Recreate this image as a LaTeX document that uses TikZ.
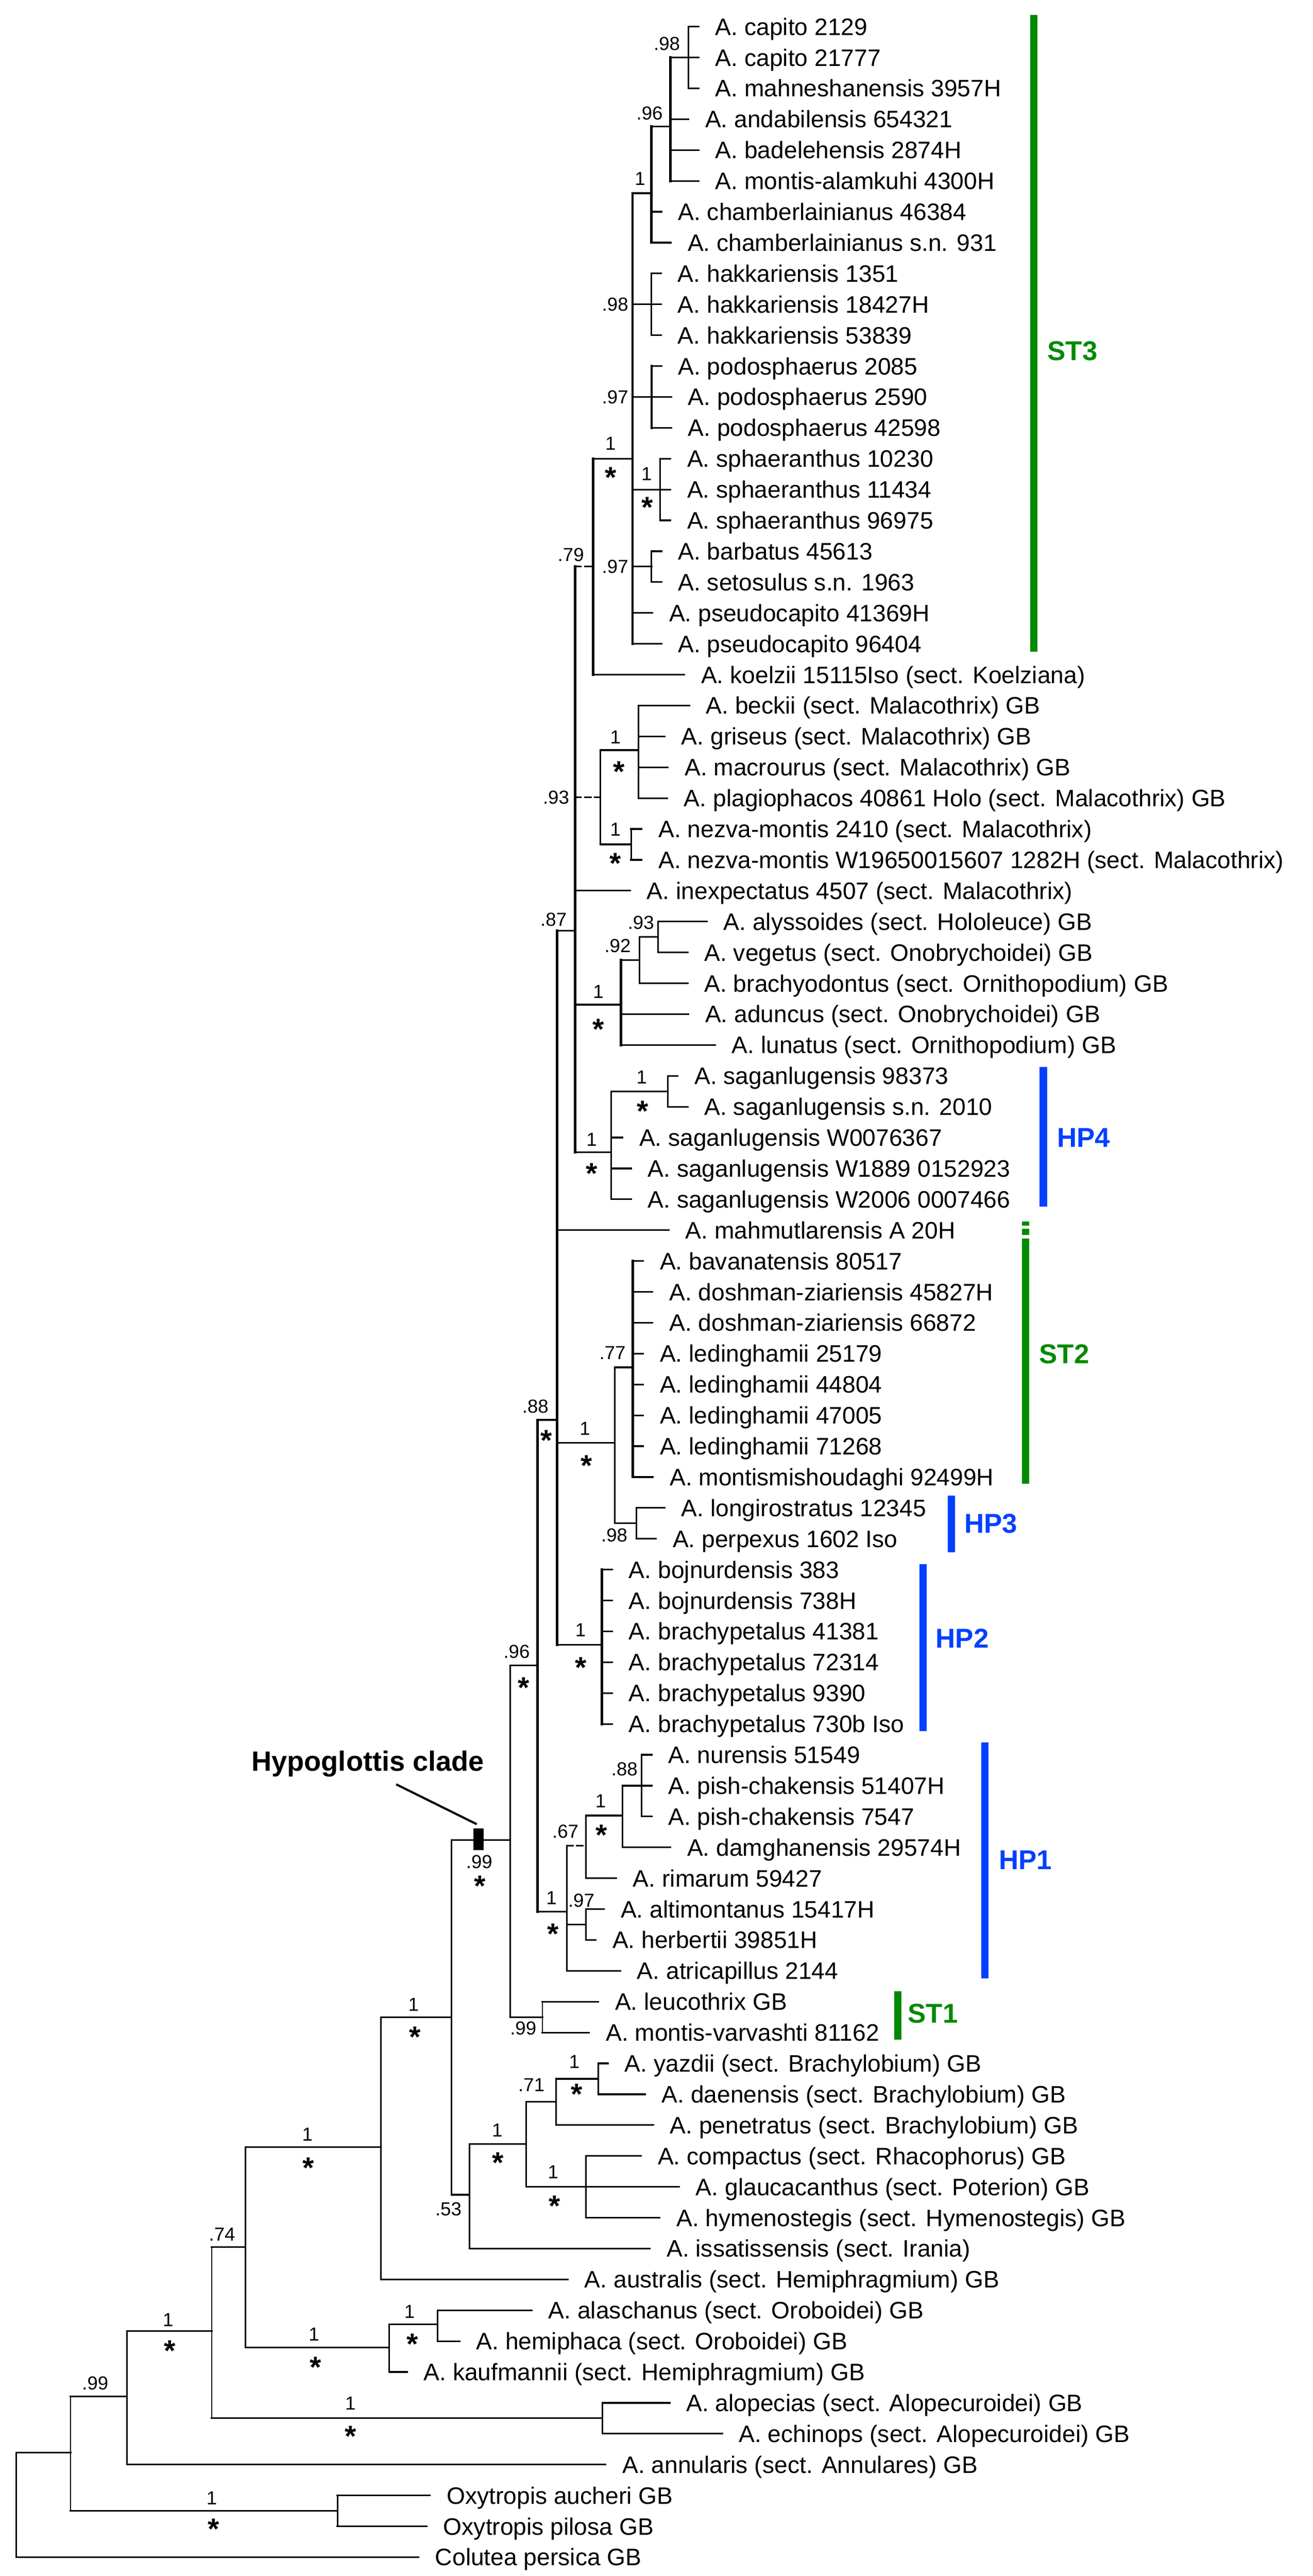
\documentclass[tikz,border=0pt]{standalone}
\usepackage{fontspec}
\setmainfont{Liberation Sans}
\definecolor{stgreen}{RGB}{0,138,0}
\definecolor{hpblue}{RGB}{0,64,255}
\newcounter{nc}
\newcommand{\lf}[4]{\stepcounter{nc}\draw[br] (#2,#1) -- (#3,#1);
  \node[leaf] (leaf\arabic{nc}) at (#3+10,#1+5.2) {#4};}
\newcommand{\vt}[3]{\draw[vthin] (#1,#2) -- (#1,#3);}
\newcommand{\vk}[3]{\draw[vthick] (#1,#2) -- (#1,#3);}
\newcommand{\hz}[3]{\draw[br] (#1,#3) -- (#2,#3);}
\newcommand{\hd}[3]{\draw[br,dash pattern=on 3.5pt off 2.5pt] (#1,#3) -- (#2,#3);}
\newcommand{\sa}[3]{\stepcounter{nc}\node[sup,anchor=base] (s\arabic{nc}) at (#1,#2+4.1) {#3};}
\newcommand{\sr}[3]{\stepcounter{nc}\node[sup,anchor=base east] (s\arabic{nc}) at (#1,#2+4.1) {#3};}
\newcommand{\sw}[3]{\stepcounter{nc}\node[sup,anchor=base west] (s\arabic{nc}) at (#1,#2+4.1) {#3};}
\newcommand{\st}[2]{\stepcounter{nc}\node[star,anchor=base] (s\arabic{nc}) at (#1,#2+10.2) {*};}
\newcommand{\cbar}[4]{\draw[line width=4.5pt,#4] (#1,#2) -- (#1,#3);}
\newcommand{\clab}[5]{\node[clade,text=#4,anchor=base west] (c#5) at (#1,#2+5.95) {#3};}
\begin{document}
\begin{tikzpicture}[x=1pt,y=-1pt,
  br/.style={line width=1pt,line cap=rect},
  vthin/.style={line width=0.9pt,line cap=rect},
  vthick/.style={line width=1.5pt,line cap=rect},
  leaf/.style={anchor=base west,inner sep=0pt,font=\fontsize{14.5}{14.5}\selectfont},
  sup/.style={inner sep=0pt,font=\fontsize{11.5}{11.5}\selectfont},
  star/.style={inner sep=0pt,font=\fontsize{18}{18}\selectfont\bfseries},
  clade/.style={inner sep=0pt,font=\fontsize{16.6}{16.6}\selectfont\bfseries}]
\useasboundingbox (0,0) rectangle (800,1569.3);
% ---- ST3 ----
\lf{16.2}{419.5}{425.7}{A. capito 2129}
\lf{35.0}{419.5}{425.7}{A. capito 21777}
\lf{53.8}{419.5}{425.7}{A. mahneshanensis 3957H}
\vt{419.5}{16.2}{53.8}\hz{408.5}{419.5}{35.0}
\lf{72.6}{408.5}{419.5}{A. andabilensis 654321}
\lf{91.4}{408.5}{425.7}{A. badelehensis 2874H}
\lf{110.2}{408.5}{425.7}{A. montis-alamkuhi 4300H}
\vk{408.5}{35.0}{110.2}\hz{396.8}{408.5}{77}
\lf{129.0}{396.8}{403}{A. chamberlainianus 46384}
\lf{147.8}{396.8}{408.8}{A. chamberlainianus s.n. 931}
\vk{396.8}{77}{147.8}\hz{385.4}{396.8}{117.7}
\lf{166.6}{397}{402.8}{A. hakkariensis 1351}
\lf{185.4}{397}{402.8}{A. hakkariensis 18427H}
\lf{204.2}{397}{402.8}{A. hakkariensis 53839}
\vt{397}{166.6}{204.2}\hz{385.4}{397}{185.4}
\lf{223.0}{397}{403}{A. podosphaerus 2085}
\lf{241.8}{397}{409}{A. podosphaerus 2590}
\lf{260.6}{397}{409}{A. podosphaerus 42598}
\vk{397}{223.0}{260.6}\hz{385.4}{397}{241.8}
\lf{279.4}{402.3}{408.5}{A. sphaeranthus 10230}
\lf{298.2}{402.3}{408.5}{A. sphaeranthus 11434}
\lf{317.0}{402.3}{408.5}{A. sphaeranthus 96975}
\vt{402.3}{279.4}{317.0}\hz{385.4}{402.3}{298.2}
\lf{335.8}{397}{403}{A. barbatus 45613}
\lf{354.6}{397}{403}{A. setosulus s.n. 1963}
\vt{397}{335.8}{354.6}\hz{385.4}{397}{345.2}
\lf{373.4}{385.4}{397.5}{A. pseudocapito 41369H}
\lf{392.2}{385.4}{403}{A. pseudocapito 96404}
\vk{385.4}{117.7}{392.2}\hz{361.5}{385.4}{279.4}
\lf{411.0}{361.5}{417}{A. koelzii 15115Iso (sect. Koelziana)}
\vk{361.5}{279.4}{411.0}\hd{350.5}{361.5}{345}
% ---- Malacothrix ----
\lf{429.8}{389}{420}{A. beckii (sect. Malacothrix) GB}
\lf{448.6}{389}{405}{A. griseus (sect. Malacothrix) GB}
\lf{467.4}{389}{407}{A. macrourus (sect. Malacothrix) GB}
\lf{486.2}{389}{406.6}{A. plagiophacos 40861 Holo (sect. Malacothrix) GB}
\vt{389}{429.8}{486.2}\hz{365.8}{389}{457}
\lf{505.0}{384.5}{391}{A. nezva-montis 2410 (sect. Malacothrix)}
\lf{523.8}{384.5}{391}{A. nezva-montis W19650015607 1282H (sect. Malacothrix)}
\vt{384.5}{505.0}{523.8}\hz{365.8}{384.5}{514.4}
\vt{365.8}{457}{514.4}\hd{350.5}{365.8}{485.7}
\lf{542.6}{350.5}{384}{A. inexpectatus 4507 (sect. Malacothrix)}
% ---- alyssoides group ----
\lf{561.4}{401}{430.7}{A. alyssoides (sect. Hololeuce) GB}
\lf{580.2}{401}{419}{A. vegetus (sect. Onobrychoidei) GB}
\vt{401}{561.4}{580.2}\hz{389.7}{401}{570.8}
\lf{599.0}{389.7}{419}{A. brachyodontus (sect. Ornithopodium) GB}
\vt{389.7}{570.8}{599.0}\hz{378.3}{389.7}{584.9}
\lf{617.8}{378.3}{419.5}{A. aduncus (sect. Onobrychoidei) GB}
\lf{636.6}{378.3}{435.7}{A. lunatus (sect. Ornithopodium) GB}
\vk{378.3}{584.9}{636.6}\hz{350.5}{378.3}{612}
% ---- HP4 ----
\lf{655.4}{407}{413}{A. saganlugensis 98373}
\lf{674.2}{407}{419}{A. saganlugensis s.n. 2010}
\vt{407}{655.4}{674.2}\hz{372.5}{407}{664.8}
\lf{693.0}{372.5}{379.3}{A. saganlugensis W0076367}
\lf{711.8}{372.5}{384.5}{A. saganlugensis W1889 0152923}
\lf{730.6}{372.5}{384.5}{A. saganlugensis W2006 0007466}
\vt{372.5}{664.8}{730.6}\hz{350.5}{372.5}{702}
\vk{350.5}{345}{702}\hz{339.5}{350.5}{567}
\lf{749.4}{339.5}{407.5}{A. mahmutlarensis A 20H}
% ---- ST2 / HP3 ----
\lf{768.2}{385.6}{391.9}{A. bavanatensis 80517}
\lf{787.0}{385.6}{397.6}{A. doshman-ziariensis 45827H}
\lf{805.8}{385.6}{397.6}{A. doshman-ziariensis 66872}
\lf{824.6}{385.6}{391.9}{A. ledinghamii 25179}
\lf{843.4}{385.6}{391.9}{A. ledinghamii 44804}
\lf{862.2}{385.6}{391.9}{A. ledinghamii 47005}
\lf{881.0}{385.6}{391.9}{A. ledinghamii 71268}
\lf{899.8}{385.6}{397.9}{A. montismishoudaghi 92499H}
\vk{385.6}{768.2}{899.8}\hz{374.6}{385.6}{833}
\lf{918.6}{387.7}{405}{A. longirostratus 12345}
\lf{937.4}{387.7}{399.7}{A. perpexus 1602 Iso}
\vt{387.7}{918.6}{937.4}\hz{374.6}{387.7}{928}
\vt{374.6}{833}{928}\hz{339.5}{374.6}{879}
% ---- HP2 ----
\lf{956.2}{366.7}{373}{A. bojnurdensis 383}
\lf{975.0}{366.7}{373}{A. bojnurdensis 738H}
\lf{993.8}{366.7}{373}{A. brachypetalus 41381}
\lf{1012.6}{366.7}{373}{A. brachypetalus 72314}
\lf{1031.4}{366.7}{373}{A. brachypetalus 9390}
\lf{1050.2}{366.7}{373}{A. brachypetalus 730b Iso}
\vk{366.7}{956.2}{1050.2}\hz{339.5}{366.7}{1002}
\vk{339.5}{567}{1002}\hz{327.6}{339.5}{865}
% ---- HP1 ----
\lf{1069.0}{391}{397}{A. nurensis 51549}
\lf{1087.8}{391}{397}{A. pish-chakensis 51407H}
\lf{1106.6}{391}{397}{A. pish-chakensis 7547}
\vt{391}{1069.0}{1106.6}\hz{379.3}{391}{1087.8}
\lf{1125.4}{379.3}{408.5}{A. damghanensis 29574H}
\vt{379.3}{1087.8}{1125.4}\hz{357}{379.3}{1106}
\lf{1144.2}{357}{375.5}{A. rimarum 59427}
\vt{357}{1106}{1144.2}\hd{345.5}{357}{1124.5}
\lf{1163.0}{357}{368}{A. altimontanus 15417H}
\lf{1181.8}{357}{363}{A. herbertii 39851H}
\vt{357}{1163.0}{1181.8}\hz{345.5}{357}{1172.4}
\lf{1200.6}{345.5}{378}{A. atricapillus 2144}
\vt{345.5}{1124.5}{1200.6}\hz{327.6}{345.5}{1164.6}
\vk{327.6}{865}{1164.6}\hz{311}{327.6}{1014.5}
% ---- ST1 ----
\lf{1219.4}{330.5}{364.6}{A. leucothrix GB}
\lf{1238.2}{330.5}{359}{A. montis-varvashti 81162}
\vt{330.5}{1219.4}{1238.2}\hz{311}{330.5}{1228.8}
\vt{311}{1014.5}{1228.8}\hz{275}{311}{1121}
% ---- Brachylobium etc ----
\lf{1257.0}{364.6}{370.5}{A. yazdii (sect. Brachylobium) GB}
\lf{1275.8}{364.6}{393}{A. daenensis (sect. Brachylobium) GB}
\vt{364.6}{1257.0}{1275.8}\hz{338.7}{364.6}{1266.4}
\lf{1294.6}{338.7}{398}{A. penetratus (sect. Brachylobium) GB}
\vt{338.7}{1266.4}{1294.6}\hz{320.7}{338.7}{1280.5}
\lf{1313.4}{357}{390.6}{A. compactus (sect. Rhacophorus) GB}
\lf{1332.2}{357}{413.8}{A. glaucacanthus (sect. Poterion) GB}
\lf{1351.0}{357}{402}{A. hymenostegis (sect. Hymenostegis) GB}
\vt{357}{1313.4}{1351.0}\hz{320.7}{357}{1332.2}
\vt{320.7}{1280.5}{1332.2}\hz{286}{320.7}{1306}
\lf{1369.8}{286}{396}{A. issatissensis (sect. Irania)}
\vt{286}{1306}{1369.8}\hz{275}{286}{1337}
\vt{275}{1121}{1337}\hz{232}{275}{1229}
\lf{1388.6}{232}{346}{A. australis (sect. Hemiphragmium) GB}
\vt{232}{1229}{1388.6}\hz{149.5}{232}{1308}
\lf{1407.4}{266.5}{324}{A. alaschanus (sect. Oroboidei) GB}
\lf{1426.2}{266.5}{280}{A. hemiphaca (sect. Oroboidei) GB}
\vt{266.5}{1407.4}{1426.2}\hz{237}{266.5}{1416}
\lf{1445.0}{237}{248}{A. kaufmannii (sect. Hemiphragmium) GB}
\vt{237}{1416}{1445.0}\hz{149.5}{237}{1430}
\vt{149.5}{1308}{1430}\hz{129}{149.5}{1369}
\lf{1463.8}{367}{408}{A. alopecias (sect. Alopecuroidei) GB}
\lf{1482.6}{367}{440}{A. echinops (sect. Alopecuroidei) GB}
\vt{367}{1463.8}{1482.6}\hz{129}{367}{1473}
\vt{129}{1369}{1473}\hz{77.4}{129}{1420}
\lf{1501.4}{77.4}{369}{A. annularis (sect. Annulares) GB}
\vt{77.4}{1420}{1501.4}\hz{43}{77.4}{1460}
\lf{1520.2}{205.6}{262}{Oxytropis aucheri GB}
\lf{1539.0}{205.6}{260}{Oxytropis pilosa GB}
\vt{205.6}{1520.2}{1539.0}\hz{43}{205.6}{1529.6}
\vt{43}{1460}{1529.6}\hz{10}{43}{1494}
\lf{1557.8}{10}{255}{Colutea persica GB}
\vt{10}{1494}{1557.8}
% ---- support values ----
\sr{414.5}{26.5}{.98}
\sr{404}{69}{.96}
\sa{390}{108.6}{1}
\sr{383}{185.4}{.98}
\sr{383}{241.8}{.97}
\sa{394}{288.5}{1}\st{394.5}{305}
\sr{383}{345.2}{.97}
\sa{372}{270}{1}\st{372}{287}
\sr{356}{338}{.79}
\sa{375}{449}{1}\st{377}{466}
\sa{375}{505}{1}\st{375}{522}
\sr{347}{485.7}{.93}
\sr{345.5}{560}{.87}
\sr{398.7}{561.8}{.93}
\sr{384.5}{576}{.92}
\sa{364.6}{604}{1}\st{364.6}{623}
\sa{391}{656}{1}\st{391.5}{673}
\sa{360.5}{694}{1}\st{360.5}{711}
\sr{381.4}{824}{.77}
\sa{356.4}{870}{1}\st{357.5}{888.7}
\sr{382.5}{935}{.98}
\sr{334.4}{856.7}{.88}\st{333}{873.4}
\sa{353.7}{993}{1}\st{354}{1012}
\sr{323}{1006}{.96}\st{319}{1024}
\sr{388.7}{1077.7}{.88}
\sa{366}{1097}{1}\st{366.5}{1113.8}
\sr{352.7}{1115.6}{.67}
\sa{336}{1156}{1}\st{337}{1174}
\sw{346}{1157.7}{.97}
\sa{292}{1134}{.99}\st{292.5}{1145}
\sr{327}{1235.5}{.99}
\sa{350}{1255.8}{1}\st{351.4}{1271.7}
\sr{332}{1270}{.71}
\sa{303}{1297.6}{1}\st{303.5}{1313.5}
\sa{337}{1323}{1}\st{338}{1340}
\sr{281.4}{1345.5}{.53}
\sa{252}{1221}{1}\st{253}{1237}
\sa{187.3}{1300}{1}\st{188}{1316.6}
\sr{143.5}{1361}{.74}
\sa{191.3}{1422}{1}\st{192.3}{1438}
\sa{249.5}{1408}{1}\st{251.3}{1424}
\sa{213.5}{1464}{1}\st{213.5}{1480}
\sa{102.4}{1413}{1}\st{103.5}{1428}
\sa{58}{1451.7}{.99}
\sa{129}{1521.8}{1}\st{130.3}{1536.6}
% ---- Hypoglottis clade ----
\fill (288.4,1113.9) rectangle (294.7,1127);
\node[inner sep=0pt,anchor=base east,font=\fontsize{17}{17}\selectfont\bfseries] (hyp) at (295.2,1079) {Hypoglottis clade};
\coordinate (hypend) at (290.5,1111.3);
\draw[line width=1.3pt] (241.4,1087) -- (hypend);
% ---- clade bars ----
\cbar{629.9}{9}{397}{stgreen}
\clab{638}{213.5}{ST3}{stgreen}{st3}
\cbar{635.7}{650}{735}{hpblue}
\clab{643.9}{692.8}{HP4}{hpblue}{hp4}
\draw[line width=4.4pt,stgreen] (624.8,744) -- (624.8,746.7) (624.8,748.6) -- (624.8,752.4);
\cbar{624.8}{754.6}{903.8}{stgreen}
\clab{633}{824.8}{ST2}{stgreen}{st2}
\cbar{579.7}{911}{945.8}{hpblue}
\clab{587.5}{928}{HP3}{hpblue}{hp3}
\cbar{562.4}{953}{1054.5}{hpblue}
\clab{570}{998}{HP2}{hpblue}{hp2}
\cbar{600.1}{1061.6}{1205.3}{hpblue}
\clab{608.4}{1133}{HP1}{hpblue}{hp1}
\cbar{547}{1213}{1242.5}{stgreen}
\clab{553}{1226.3}{ST1}{stgreen}{st1}
\end{tikzpicture}
\end{document}
